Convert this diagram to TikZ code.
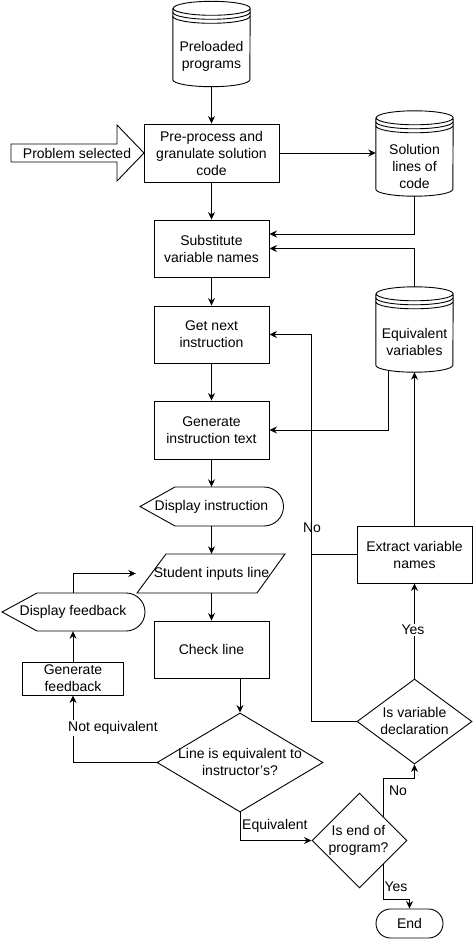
\documentclass[tikz,border=0pt]{standalone}
\usepackage{fontspec}
\setmainfont{Liberation Sans}
\usetikzlibrary{shapes.geometric,arrows.meta,calc}
\tikzset{
  every node/.style={font=\fontsize{14}{17}\selectfont, align=center},
  ln/.style={line width=0.9pt, draw=black},
  arr/.style={ln, -{Stealth[length=7.5pt,width=7pt]}},
  box/.style={ln, rectangle, inner sep=0pt},
  invis/.style={rectangle, inner sep=0pt},
  diam/.style={ln, diamond, inner sep=0pt},
  lbl/.style={inner sep=1pt},
}
\newcommand\dbshape[4]{%
  \node[invis, minimum width=77pt, minimum height=85pt] (#1) at (#2,#3) {};
  \draw[ln] ([yshift=-7pt]#1.north west) -- ([yshift=7pt]#1.south west)
     arc[start angle=180,end angle=360,x radius=38.5pt,y radius=7pt]
     -- ([yshift=-7pt]#1.north east)
     arc[start angle=0,end angle=180,x radius=38.5pt,y radius=7pt]
     arc[start angle=180,end angle=360,x radius=38.5pt,y radius=7pt];
  \draw[ln] ([yshift=-11pt]#1.north west) arc[start angle=180,end angle=360,x radius=38.5pt,y radius=7pt];
  \draw[ln] ([yshift=-15pt]#1.north west) arc[start angle=180,end angle=360,x radius=38.5pt,y radius=7pt];
  \node (#1-t) at ([yshift=-12.5pt]#1.center) {#4};
}
\begin{document}
\begin{tikzpicture}[x=1pt,y=1pt]
\useasboundingbox (0,0) rectangle (474,-941);

% cylinders
\dbshape{precyl}{211.5}{-44}{Preloaded\\programs}
\dbshape{sol}{414.5}{-153.5}{Solution\\lines of\\code}
\dbshape{eqv}{414.5}{-329.5}{Equivalent\\variables}

% big input arrow
\draw[ln] (11,-144) -- (117,-144) -- (117,-125) -- (144,-153) -- (117,-181) -- (117,-162) -- (11,-162) -- cycle;
\node (probsel) at (77,-153) {Problem selected};

% main column boxes
\node[box, minimum width=135pt, minimum height=58pt] (pre) at (211.5,-153) {Pre-process and\\granulate solution\\code};
\node[box, minimum width=115pt, minimum height=57pt] (sub) at (211.5,-248.5) {Substitute\\variable names};
\node[box, minimum width=115pt, minimum height=57pt] (next) at (211.5,-334.5) {Get next\\instruction};
\node[box, minimum width=115pt, minimum height=58pt] (gen) at (211.5,-430) {Generate\\instruction text};

% display instruction
\draw[ln] (140,-506.5) -- (175,-487) -- (264,-487) arc[start angle=90,end angle=-90,radius=19.5pt] -- (175,-526) -- cycle;
\node[invis, minimum height=39pt] (dinst) at (211.5,-506.5) {Display instruction};

% student inputs
\draw[ln] (166,-554) -- (285,-554) -- (257,-593) -- (137,-593) -- cycle;
\node[invis, minimum height=39pt, minimum width=151pt] (stud) at (211.5,-573.5) {Student inputs line};

% display feedback
\draw[ln] (2,-612) -- (37,-593) -- (126,-593) arc[start angle=90,end angle=-90,radius=19pt] -- (37,-631) -- cycle;
\node[invis, minimum height=38pt] (dfb) at (73,-612) {Display feedback};

\node[box, minimum width=101pt, minimum height=33pt] (genfb) at (73,-678.5) {Generate\\feedback};
\node[box, minimum width=115pt, minimum height=57pt] (check) at (211.5,-649.5) {Check line};
\node[box, minimum width=115pt, minimum height=57pt] (extract) at (414.5,-554.5) {Extract variable\\names};

% diamonds
\node[diam, minimum width=166pt, minimum height=99pt] (eqd) at (240,-762.5) {};
\node (eqd-t) at (240,-762) {Line is equivalent to\\instructor's?};
\node[diam, minimum width=95pt, minimum height=95pt] (endd) at (359.5,-840.5) {};
\node (endd-t) at (358.5,-840.5) {Is end of\\program?};
\node[diam, minimum width=115pt, minimum height=85pt] (vard) at (414.5,-721.5) {};
\node (vard-t) at (414.5,-720.5) {Is variable\\declaration};

\node[ln, draw, rounded corners=14.5pt, minimum width=67pt, minimum height=29pt, inner sep=0pt] (end) at (409.5,-923.5) {End};

% connectors
\draw[arr] (precyl.south) -- (pre.north);
\draw[arr] (pre.east) -- (pre.east -| sol.west);
\draw[arr] (pre.south) -- (sub.north);
\draw[arr] (sol.south) |- ([yshift=14.5pt]sub.east);
\draw[arr] (eqv.north) |- (sub.east);
\draw[arr] (sub.south) -- (next.north);
\draw[arr] (next.south) -- (gen.north);
\draw[arr] ([xshift=-26pt,yshift=1.8pt]eqv.south) |- (gen.east);
\draw[arr] (gen.south) -- (dinst.north);
\draw[arr] (dinst.south) -- (stud.north);
\draw[arr] (stud.south) -- (check.north);
\draw[arr] (eqd.north |- check.south) -- (eqd.north);
\draw[arr] (eqd.west) -| (genfb.south);
\draw[arr] (genfb.north) -- (dfb.south);
\draw[arr] (dfb.north) |- (stud.west);
\draw[arr] (eqd.south) |- (endd.west);
\draw[arr] (endd.north east) -- ++(0,37.75) -| (vard.south);
\draw[arr] (endd.south east) -- ++(0,-34.75) -| (end.north);
\draw[arr] (vard.north) -- (extract.south);
\draw[arr] (extract.north) -- (eqv.south);
\draw[arr] (vard.west) -- ++(-45,0) |- (next.east);
\draw[ln] (extract.west) -- ++(-45,0);

% labels
\node[lbl, fill=white, anchor=west] (lnoteq) at (67,-728) {Not equivalent};
\node[lbl, anchor=west] (leq) at (241,-826) {Equivalent};
\node[lbl] (lno1) at (398,-791) {No};
\node[lbl] (lyes1) at (396,-887) {Yes};
\node[lbl, fill=white] (lyes2) at (413,-630) {Yes};
\node[lbl] (lno2) at (312,-528) {No};
\end{tikzpicture}
\end{document}
